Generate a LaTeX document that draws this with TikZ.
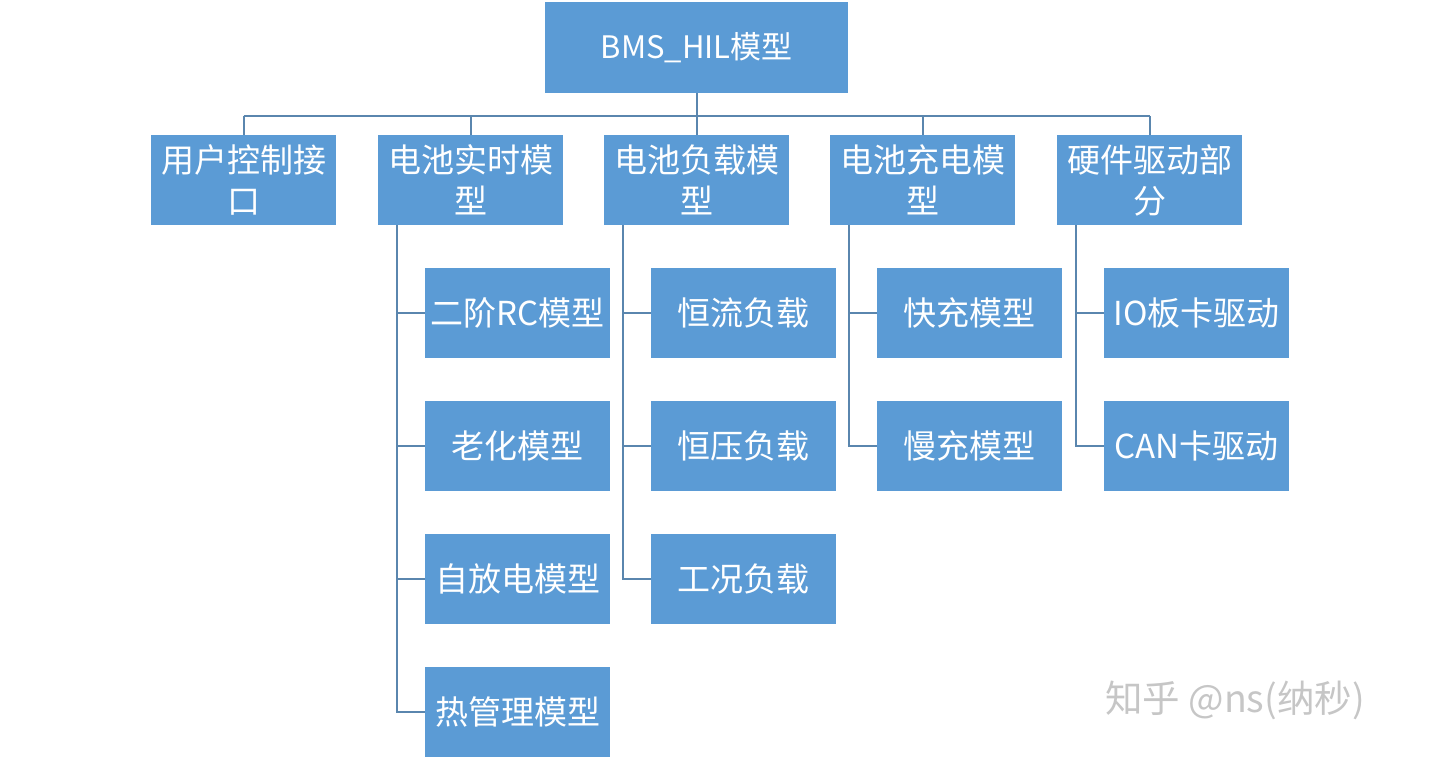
\documentclass[tikz,border=0pt]{standalone}
\usepackage{fontspec}
\setmainfont{Noto Sans CJK SC}
\begin{document}
\begin{tikzpicture}[x=1pt,y=-1pt,
 box/.style={draw=none,fill=boxc,text=white,minimum width=185pt,minimum height=90pt,align=center,font=\fontsize{33}{41}\selectfont,inner sep=0pt,anchor=north west},
 ln/.style={draw=linec,line width=1.6pt}]
\definecolor{boxc}{HTML}{5B9BD5}
\definecolor{linec}{HTML}{5A86AE}
\useasboundingbox (0,0) rectangle (1440,760);
\node[box,minimum width=303pt,minimum height=91pt,font=\fontsize{31}{40}\selectfont] (r) at (545,2) {BMS\_HIL模型};
\node[box] (a) at (151,135) {用户控制接\\口};
\node[box] (b) at (378,135) {电池实时模\\型};
\node[box] (c) at (604,135) {电池负载模\\型};
\node[box] (d) at (830,135) {电池充电模\\型};
\node[box] (e) at (1057,135) {硬件驱动部\\分};
\coordinate (h) at (0,116);
\draw[ln] (r.south) -- (r.south |- h);
\draw[ln] (a.north |- h) -- (e.north |- h);
\foreach \n in {a,b,c,d,e} \draw[ln] (\n.north |- h) -- (\n.north);
\foreach \p/\x/\l in {b/425/{二阶RC模型,老化模型,自放电模型,热管理模型},c/651/{恒流负载,恒压负载,工况负载},d/877/{快充模型,慢充模型},e/1104/{IO板卡驱动,CAN卡驱动}}{
 \foreach \t [count=\i] in \l {
  \node[box] (\p\i) at (\x,{268+133*(\i-1)}) {\t};
  \draw[ln] ([xshift=19pt]\p.south west) |- (\p\i.west);
 }
}
\node[text=gray!45,font=\fontsize{37.5}{42}\selectfont,anchor=west,inner sep=0pt] (w) at (1105,700) {知乎 @ns(纳秒)};
\end{tikzpicture}
\end{document}
